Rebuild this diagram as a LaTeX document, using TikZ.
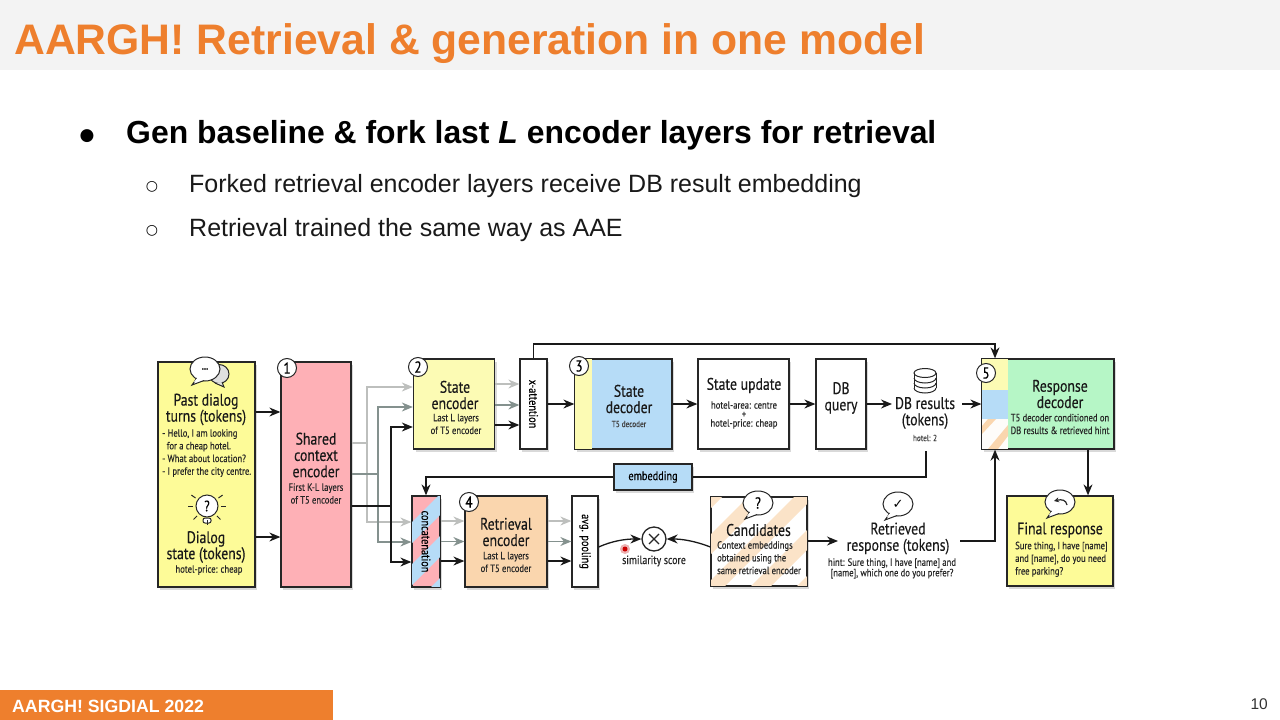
\documentclass[tikz,border=0pt]{standalone}
\usepackage{fontspec}
\setmainfont{Liberation Sans}
\newfontfamily\diagfont[FakeStretch=0.82,FakeBold=0.25]{PT Sans}
\newfontfamily\symfont{DejaVu Sans}
\usetikzlibrary{shadows,arrows.meta}
\definecolor{slideorange}{HTML}{EE7F2D}
\definecolor{slidegray}{HTML}{F3F3F3}
\definecolor{boxyellow}{HTML}{FDFB98}
\definecolor{paleyellow}{HTML}{FCFBB4}
\definecolor{boxpink}{HTML}{FEB0B6}
\definecolor{boxblue}{HTML}{B6DCF7}
\definecolor{boxorange}{HTML}{FAD6AE}
\definecolor{paleorange}{HTML}{FBE3C8}
\definecolor{boxgreen}{HTML}{B6F6C6}
\definecolor{midgray}{HTML}{84918E}
\definecolor{lightgray}{HTML}{BDBFBD}
\newcommand{\fs}[1]{\fontsize{#1}{#1}\selectfont}
\tikzset{
  box/.style={draw=black!85, line width=1.3pt, rectangle, inner sep=0pt,
    drop shadow={shadow xshift=2pt, shadow yshift=-2.5pt, opacity=.3}},
  numcirc/.style={circle, draw=black!85, fill=white, line width=1pt, inner sep=0pt,
    minimum size=19pt, font=\diagfont\fs{16}},
  bigtxt/.style={font=\diagfont\fs{16.8}, align=center, text=black!90, inner sep=0pt},
  smalltxt/.style={font=\diagfont\fs{10.5}, align=center, text=black!85, inner sep=0pt},
  tinytxt/.style={font=\diagfont\fs{8.8}, align=center, text=black!75, inner sep=0pt},
  sidetxt/.style={rotate=-90, font=\diagfont\fs{12.5}, inner sep=0pt},
  arr/.style={-{Stealth[length=11pt,width=9pt]}, line width=1.3pt, black!90},
  arrmid/.style={arr, midgray},
  arrlight/.style={arr, lightgray},
  icon/.style={draw=black!85, line width=1pt, fill=white}
}
% speech bubble with something inside
\newcommand{\bubble}[3]{
  \draw[icon] (#1,#2) ellipse (15 and 12);
  \draw[icon] (#1-8,#2+9) -- (#1-13,#2+16) -- (#1-1,#2+11.5);
  \fill[white] (#1-7,#2+8) -- (#1-11,#2+13) -- (#1-2,#2+10) -- cycle;
  \node[inner sep=0pt] at (#1,#2) {#3};
}
\begin{document}
\begin{tikzpicture}[x=1pt,y=-1pt]
  \useasboundingbox (0,0) rectangle (1280,720);
  % Slide
  \fill[slidegray] (0,0) rectangle (1280,70);
  \fill[slideorange] (0,690) rectangle (333,720);
  \node[anchor=base west, inner sep=0pt, text=slideorange, font=\bfseries\fs{42.7}] (title) at (14,54) {AARGH! Retrieval \& generation in one model};
  \node[anchor=base west, inner sep=0pt, text=white, font=\bfseries\fs{17.7}] (footer) at (12,712.5) {AARGH! SIGDIAL 2022};
  \node[anchor=base east, inner sep=0pt, font=\fs{15.5}, text=black!80] (pagenum) at (1268,709) {10};
  \node[anchor=base, inner sep=0pt, font=\symfont\fs{17}] (dot1) at (87,140) {●};
  \node[anchor=base west, inner sep=0pt, font=\bfseries\fs{31.9}] (head) at (126,143) {Gen baseline \& fork last \textit{L} encoder layers for retrieval};
  \node[anchor=base, inner sep=0pt, font=\symfont\fs{14}] (dot2) at (152,190) {○};
  \node[anchor=base west, inner sep=0pt, font=\fs{25}, text=black!90] (sub1) at (189,192) {Forked retrieval encoder layers receive DB result embedding};
  \node[anchor=base, inner sep=0pt, font=\symfont\fs{14}] (dot3) at (152,234) {○};
  \node[anchor=base west, inner sep=0pt, font=\fs{25}, text=black!90] (sub2) at (189,236) {Retrieval trained the same way as AAE};
  % Cajas
  \node[box, fill=boxyellow, minimum width=97pt, minimum height=225pt] (past) at (206.5,474.5) {};
  \node[box, fill=boxpink, minimum width=70pt, minimum height=225pt] (shared) at (316,474.5) {};
  \node[box, fill=paleyellow, minimum width=81pt, minimum height=90pt] (stateenc) at (454,404) {};
  \node[box, fill=white, minimum width=27pt, minimum height=90pt] (xatt) at (533.5,404) {};
  \node[box, fill=boxblue, minimum width=97pt, minimum height=90pt] (statedec) at (623.5,404) {};
  \node[box, fill=white, minimum width=91pt, minimum height=90pt] (update) at (743.5,404) {};
  \node[box, fill=white, minimum width=50pt, minimum height=90pt] (query) at (841,404) {};
  \node[box, fill=boxgreen, minimum width=132pt, minimum height=90pt] (respdec) at (1048,404) {};
  \node[box, fill=boxyellow, minimum width=106pt, minimum height=90pt] (final) at (1060,541) {};
  \node[box, fill=boxpink, minimum width=28pt, minimum height=91pt] (concat) at (426,541.5) {};
  \node[box, fill=boxorange, minimum width=82pt, minimum height=91pt] (retenc) at (506,541.5) {};
  \node[box, fill=white, minimum width=26pt, minimum height=91pt] (avg) at (585,541.5) {};
  \node[box, fill=white, minimum width=96pt, minimum height=89pt] (cands) at (759,541.5) {};
  \node[box, fill=boxblue, minimum width=78pt, minimum height=26pt, font=\diagfont\fs{12.5}] (embed) at (653,477) {embedding};
  \node[circle, draw=black!85, fill=white, line width=1.3pt, minimum size=24pt, inner sep=0pt] (times) at (654,539) {};
  \draw[line width=1.3pt, black!85] (649,534) -- (659,544) (659,534) -- (649,544);
  % Franjas
  \fill[paleyellow] (statedec.north west) rectangle (592,449);
  \draw[line width=1.3pt, black!85] (statedec.north west) rectangle (statedec.south east);
  \begin{scope}
    \clip (412,496) rectangle (440,587);
    \foreach \y in {522,564,606}
      \fill[boxblue] (412,\y) -- (440,\y-28) -- (440,\y-7) -- (412,\y+21) -- cycle;
  \end{scope}
  \draw[line width=1.3pt, black!85] (concat.north west) rectangle (concat.south east);
  \begin{scope}
    \clip (711,497) rectangle (807,586);
    \foreach \t in {702,748,794,840,886}
      \fill[paleorange] (\t,497) -- (\t+20,497) -- (\t-69,586) -- (\t-89,586) -- cycle;
  \end{scope}
  \draw[line width=1.3pt, black!85] (cands.north west) rectangle (cands.south east);
  \fill[paleyellow] (982,359) rectangle (1008,390);
  \fill[boxblue] (982,390) rectangle (1008,419);
  \fill[white!92!boxorange] (982,419) rectangle (1008,449);
  \begin{scope}
    \clip (982,419) rectangle (1008,449);
    \fill[boxorange] (982,426) -- (988,419) -- (996,419) -- (982,434) -- cycle;
    \fill[boxorange] (988,449) -- (1008,425) -- (1008,436) -- (998,449) -- cycle;
  \end{scope}
  \draw[line width=1.3pt, black!85] (respdec.north west) rectangle (respdec.south east);
  % Textos
  \node[bigtxt] (pasttxt) at (206,409.5) {Past dialog\\[-0.8pt]turns (tokens)};
  \node[smalltxt, align=left, anchor=north west] (pastsub) at (162,429) {- Hello, I am looking\\[2.2pt]\ \ for a cheap hotel.\\[2.2pt]- What about location?\\[2.2pt]- I prefer the city centre.};
  \node[bigtxt] (statetxt) at (206,547) {Dialog\\[-0.8pt]state (tokens)};
  \node[smalltxt] (statesub) at (209,570) {hotel-price: cheap};
  \node[bigtxt] (sharedtxt) at (316,455) {Shared\\[-0.5pt]context\\[-0.5pt]encoder};
  \node[smalltxt] (sharedsub) at (316,493.5) {First K-L layers\\[2.2pt]of T5 encoder};
  \node[bigtxt] (stateenctxt) at (455,395) {State\\[-0.5pt]encoder};
  \node[smalltxt] (stateencsub) at (456,424) {Last L layers\\[2.2pt]of T5 encoder};
  \node[sidetxt] (xatttxt) at (533.5,404) {x-attention};
  \node[bigtxt] (statedectxt) at (629,399) {State\\[-0.5pt]decoder};
  \node[tinytxt] (statedecsub) at (629,424) {T5 decoder};
  \node[bigtxt] (updatetxt) at (744,385.5) {State update};
  \node[smalltxt] (updatesub) at (744,415) {hotel-area: centre\\[-1.5pt]+\\[-1.5pt]hotel-price: cheap};
  \node[bigtxt] (querytxt) at (841,398) {DB\\[-0.5pt]query};
  \node[bigtxt] (dbtxt) at (925,413) {DB results\\[-0.5pt](tokens)};
  \node[tinytxt] (dbsub) at (925,438) {hotel: 2};
  \node[bigtxt] (respdectxt) at (1060,394) {Response\\[-0.5pt]decoder};
  \node[smalltxt] (respdecsub) at (1060,424) {T5 decoder conditioned on\\[2.2pt]DB results \& retrieved hint};
  \node[sidetxt] (concattxt) at (426,541.5) {concatenation};
  \node[bigtxt] (retenctxt) at (506,532) {Retrieval\\[-0.5pt]encoder};
  \node[smalltxt] (retencsub) at (506,562) {Last L layers\\[2.2pt]of T5 encoder};
  \node[sidetxt] (avgtxt) at (585,541.5) {avg. pooling};
  \node[smalltxt, font=\diagfont\fs{12}] (simtxt) at (654,561) {similarity score};
  \node[bigtxt] (candtxt) at (758.5,530) {Candidates};
  \node[smalltxt, align=left, anchor=north west] (candsub) at (717,541) {Context embeddings\\[2.2pt]obtained using the\\[2.2pt]same retrieval encoder};
  \node[bigtxt] (rettxt) at (898,538.5) {Retrieved\\[-0.5pt]response (tokens)};
  \node[smalltxt] (retsub) at (892,568.5) {hint: Sure thing, I have [name] and\\[0pt][name], which one do you prefer?};
  \node[bigtxt] (finaltxt) at (1060,530) {Final response};
  \node[smalltxt, align=left, anchor=north west] (finalsub) at (1015,541.5) {Sure thing, I have [name]\\[2.2pt]and [name], do you need\\[2.2pt]free parking?};
  % Numeros
  \foreach \nm/\px/\py/\lab in {one/287/368/1,two/418/367/2,three/579/366/3,four/469/502/4,five/986/373/5}
    \node[numcirc] (num\nm) at (\px,\py) {\lab};
  % Iconos
  \draw[icon, fill=black!12] (219,374) ellipse (10 and 9.5);
  \draw[icon, fill=black!12] (222,382) -- (224,387) -- (215,383);
  \bubble{205}{369}{\diagfont\bfseries\fs{10}...}
  \draw[icon] (207,506) circle (11);
  \node[inner sep=0pt, font=\diagfont\fs{15}] (bulbq) at (207,506) {?};
  \draw[icon, rounded corners=2pt] (203,518) rectangle (211,523);
  \foreach \a in {0,45,90,135,180,215,325}
    \draw[line width=1pt, black!85] (207,506) ++(\a:14) -- ++(\a:5);
  \bubble{758}{503}{\diagfont\fs{16}?}
  \bubble{898}{504}{\symfont\fs{13}✓}
  \bubble{1060}{502}{}
  \draw[-{Stealth[length=5pt,width=5pt]}, line width=1.2pt, black!85] (1067,505) .. controls (1066,500) and (1062,499) .. (1054,501);
  % Base de datos
  \draw[line width=1pt, black!85] (914,373) -- (914,388) (936,373) -- (936,388);
  \foreach \cy in {378,383,388}
    \draw[line width=1pt, black!85] (914,\cy) arc (180:360:11 and -5);
  \draw[line width=1pt, black!85] (925,373) ellipse (11 and 4.5);
  % Extremos libres
  \coordinate (dbin) at (892,404);
  \coordinate (dbout) at (962,404);
  \coordinate (dbdown) at (926,451);
  \coordinate (retin) at (838,541);
  \coordinate (retout) at (960,541);
  % Conexiones de la parte superior
  \draw[arr] (past.east |- 0,412) -- (shared.west |- 0,412);
  \draw[arr] (past.east |- 0,537) -- (shared.west |- 0,537);
  \draw[arrlight] (shared.east |- 0,443) -- (367,443) -- (367,387) -- (stateenc.west |- 0,387);
  \draw[arrlight] (367,443) -- (367,522) -- (concat.west |- 0,522);
  \draw[arrmid] (shared.east |- 0,474) -- (378,474) -- (378,407) -- (stateenc.west |- 0,407);
  \draw[arrmid] (378,474) -- (378,542) -- (concat.west |- 0,542);
  \draw[arr] (shared.east |- 0,506) -- (391,506) -- (391,427) -- (stateenc.west |- 0,427);
  \draw[arr] (391,506) -- (391,562) -- (concat.west |- 0,562);
  \draw[arrlight] (stateenc.east |- 0,384) -- (xatt.west |- 0,384);
  \draw[arrmid] (stateenc.east |- 0,405) -- (xatt.west |- 0,405);
  \draw[arr] (stateenc.east |- 0,425) -- (xatt.west |- 0,425);
  \draw[arr] (xatt.north) -- (533.5,344) -- (995,344) -- (respdec.north -| 995,0);
  \draw[arr] (xatt.east) -- (statedec.west);
  \draw[arr] (statedec.east) -- (update.west);
  \draw[arr] (update.east) -- (query.west);
  \draw[arr] (query.east) -- (dbin);
  \draw[arr] (dbout) -- (respdec.west);
  \draw[line width=1.3pt, black!90] (dbdown) -- (926,477) -- (embed.east);
  \draw[arr] (embed.west) -- (concat.north |- 0,477) -- (concat.north);
  % Conexiones de la parte inferior
  \draw[arrlight] (concat.east |- 0,521) -- (retenc.west |- 0,521);
  \draw[arrmid] (concat.east |- 0,541.5) -- (retenc.west |- 0,541.5);
  \draw[arr] (concat.east |- 0,561) -- (retenc.west |- 0,561);
  \draw[arrlight] (retenc.east |- 0,521) -- (avg.west |- 0,521);
  \draw[arrmid] (retenc.east |- 0,541.5) -- (avg.west |- 0,541.5);
  \draw[arr] (retenc.east |- 0,561) -- (avg.west |- 0,561);
  \draw[arr] (avg.east |- 0,547) .. controls (612,541) and (625,539) .. (times.west);
  \draw[arr] (cands.west |- 0,547) .. controls (695,541) and (682,539) .. (times.east);
  \draw[arr] (cands.east |- 0,541) -- (retin);
  \draw[arr] (retout) -- (995,541) -- (respdec.south -| 995,0);
  \draw[arr] (respdec.south -| 1088,0) -- (final.north -| 1088,0);
  % Cursor
  \fill[red!75!black, opacity=.3] (625,549) circle (5);
  \fill[red!80!black] (625,549) circle (2.5);
\end{tikzpicture}
\end{document}
